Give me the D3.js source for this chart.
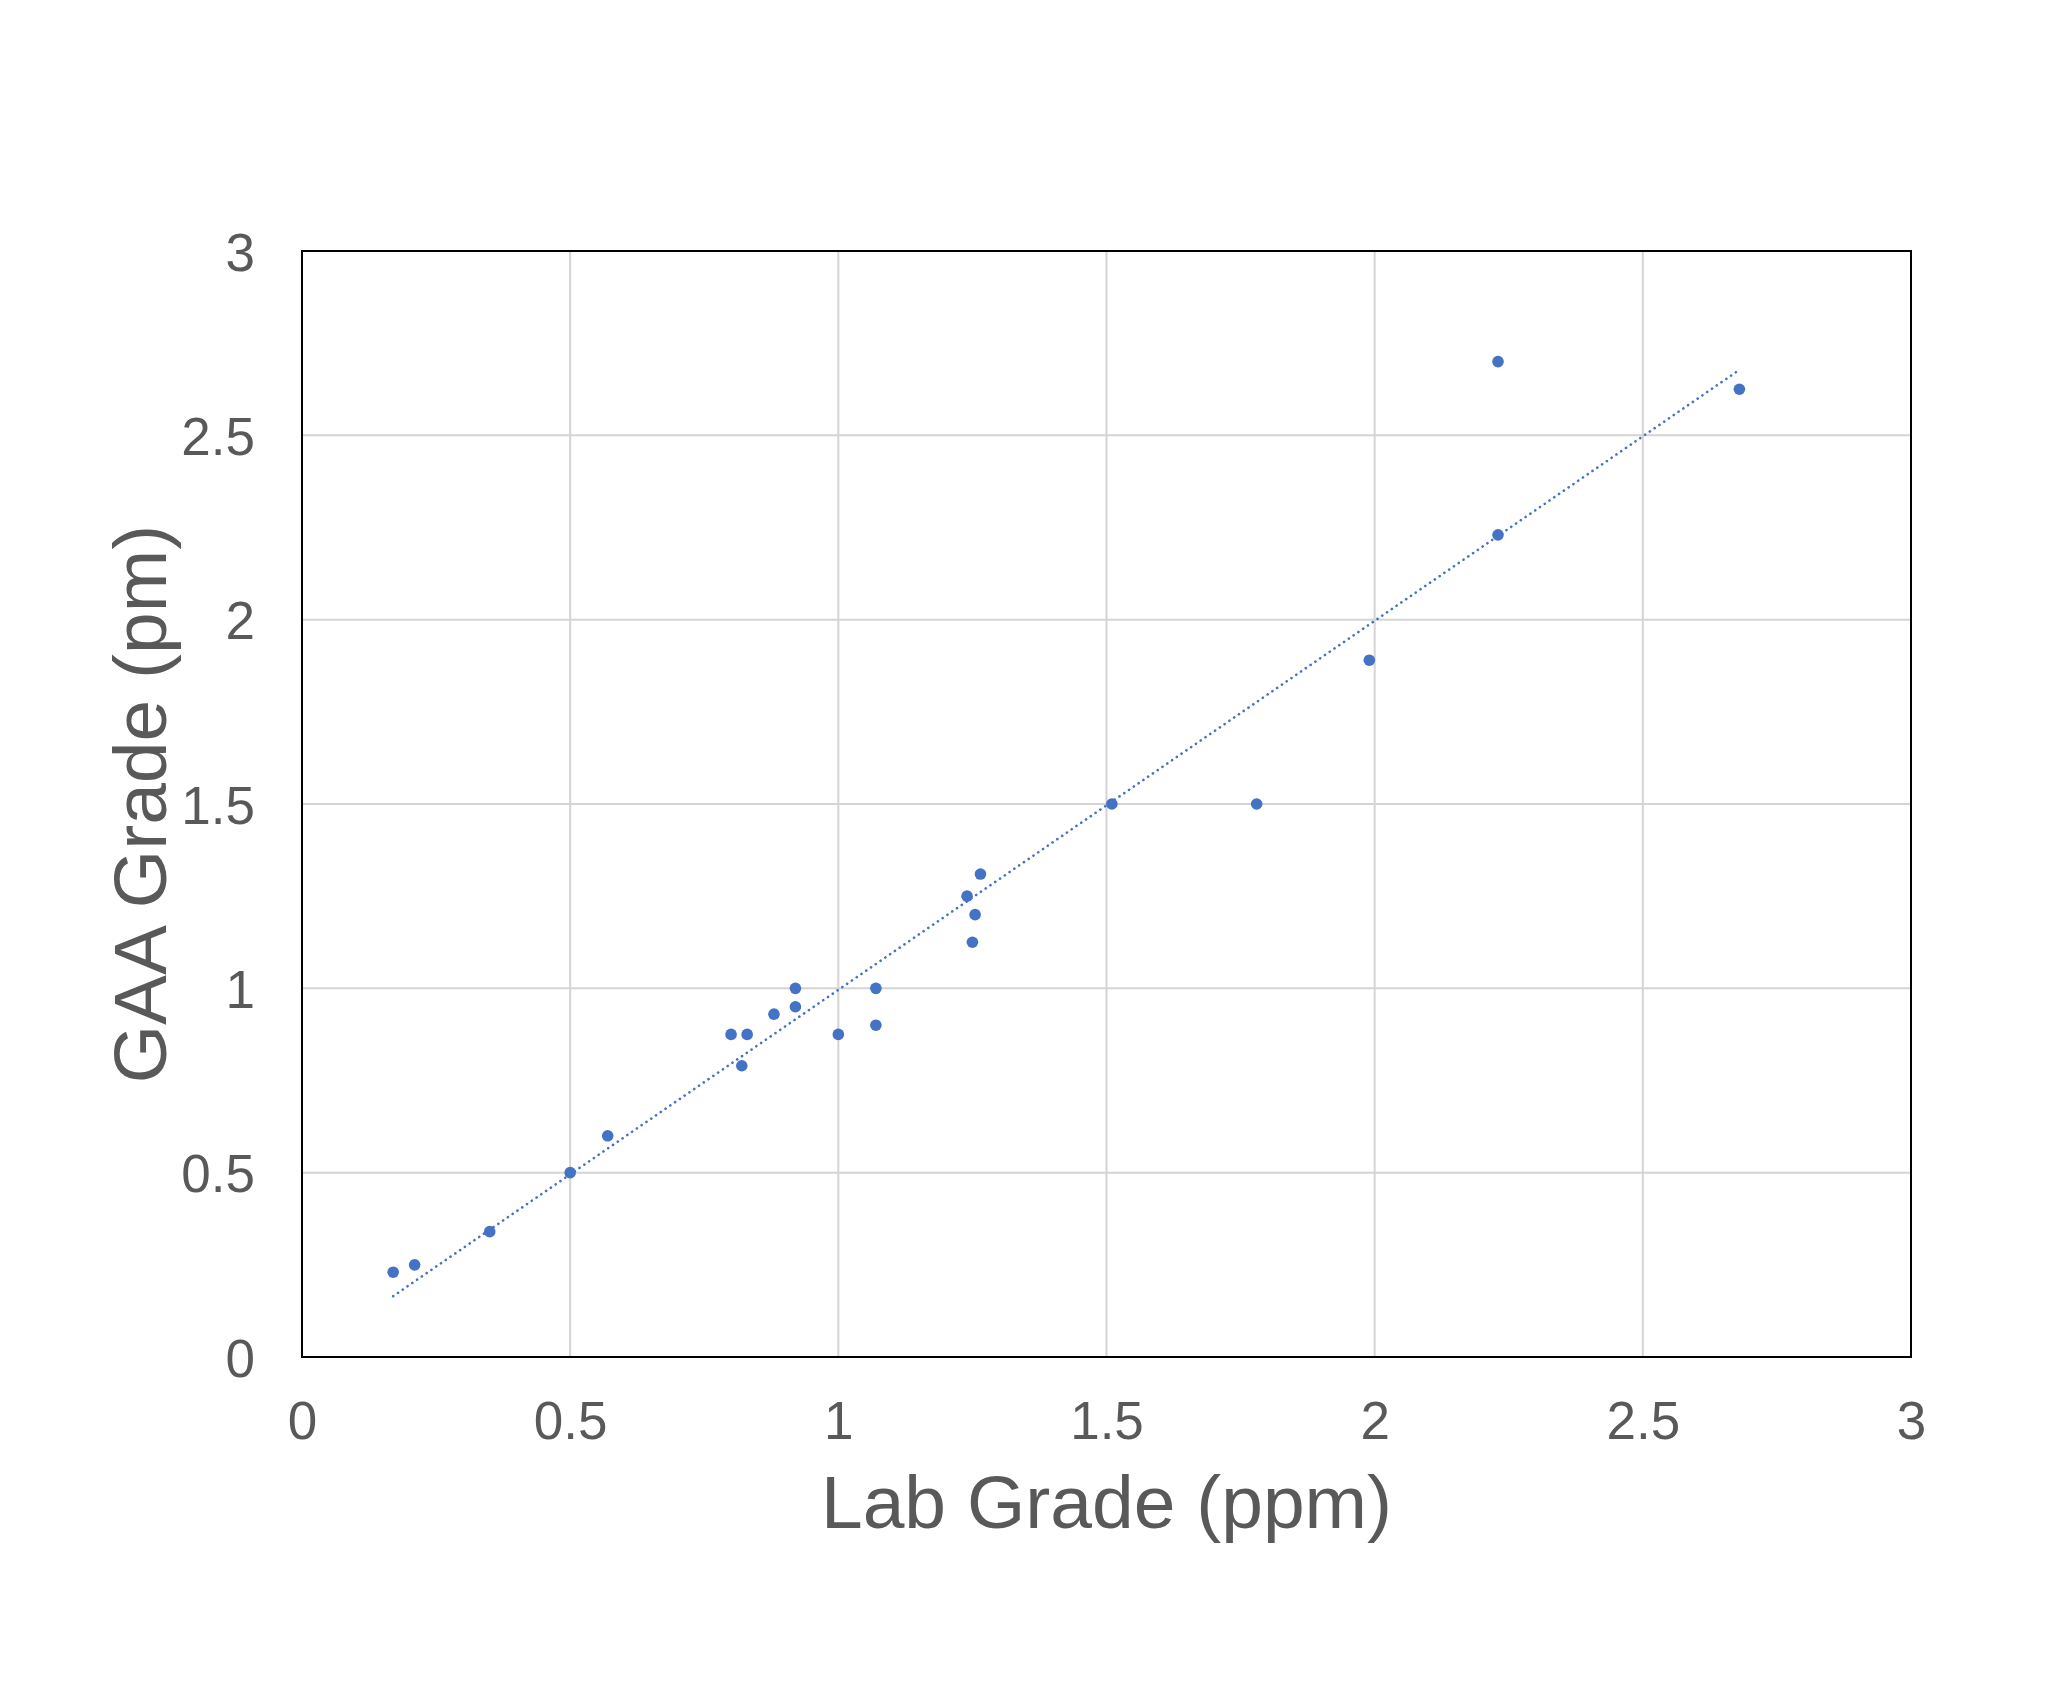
<!DOCTYPE html>
<html>
<head>
<meta charset="utf-8">
<script src="https://d3js.org/d3.v7.min.js"></script>
<style>
  body { margin: 0; background: #fff; }
  svg { display: block; }
</style>
</head>
<body>
<div id="chart"></div>
<script>
// lab grade vs GAA grade samples
var labGrade = [0.17, 0.21, 0.35, 0.50, 0.57, 0.80, 0.82, 0.83, 0.88, 0.92, 0.92, 1.00,
                1.07, 1.07, 1.24, 1.25, 1.255, 1.265, 1.51, 1.78, 1.99, 2.23, 2.23, 2.68];
var gaaGrade = [0.23, 0.25, 0.34, 0.50, 0.60, 0.875, 0.79, 0.875, 0.93, 0.95, 1.00, 0.875,
                0.90, 1.00, 1.25, 1.125, 1.20, 1.31, 1.50, 1.50, 1.89, 2.23, 2.70, 2.625];
var xTicks = [0, 0.5, 1, 1.5, 2, 2.5, 3];
var yTicks = [0, 0.5, 1, 1.5, 2, 2.5, 3];
var tickLabels = ["0", "0.5", "1", "1.5", "2", "2.5", "3"];

var W = 2048, H = 1695;
var margin = {top: 251, right: 137, bottom: 338, left: 302}
  , width = W - margin.left - margin.right
  , height = H - margin.top - margin.bottom;

var data = labGrade.map(function(d, i) { return {x: d, y: gaaGrade[i]}; });

var x = d3.scaleLinear().domain([0, 3]).range([0, width]);
var y = d3.scaleLinear().domain([0, 3]).range([height, 0]);

var svg = d3.select('#chart').append('svg')
  .attr('width', W)
  .attr('height', H);

var main = svg.append('g')
  .attr('transform', 'translate(' + margin.left + ',' + margin.top + ')');

// grid lines
main.append('g').selectAll('line.vg')
  .data(xTicks.slice(1, -1))
  .enter().append('line')
    .attr('x1', function(d) { return x(d); })
    .attr('x2', function(d) { return x(d); })
    .attr('y1', 0).attr('y2', height)
    .attr('stroke', '#d4d4d4').attr('stroke-width', 2);

main.append('g').selectAll('line.hg')
  .data(yTicks.slice(1, -1))
  .enter().append('line')
    .attr('y1', function(d) { return y(d); })
    .attr('y2', function(d) { return y(d); })
    .attr('x1', 0).attr('x2', width)
    .attr('stroke', '#d4d4d4').attr('stroke-width', 2);

// plot border
main.append('rect')
  .attr('width', width).attr('height', height)
  .attr('fill', 'none').attr('stroke', '#000').attr('stroke-width', 2);

// axes (labels only)
var xAxis = main.append('g')
  .attr('transform', 'translate(0,' + height + ')')
  .call(d3.axisBottom(x).tickValues(xTicks).tickSize(0).tickPadding(44)
        .tickFormat(function(d, i) { return tickLabels[i]; }));
var yAxis = main.append('g')
  .call(d3.axisLeft(y).tickValues(yTicks).tickSize(0).tickPadding(47)
        .tickFormat(function(d, i) { return tickLabels[i]; }));

[xAxis, yAxis].forEach(function(a) {
  a.select('.domain').remove();
  a.selectAll('text')
    .attr('fill', '#595959')
    .style('font-family', '"Liberation Sans", Arial, sans-serif')
    .style('font-size', '53px');
});
yAxis.selectAll('text').attr('dy', '0.36em');
xAxis.selectAll('text').attr('dy', '0.71em');

// linear trendline (least squares)
var mx = d3.mean(labGrade), my = d3.mean(gaaGrade);
var sxy = d3.sum(data, function(d) { return (d.x - mx) * (d.y - my); });
var sxx = d3.sum(data, function(d) { return (d.x - mx) * (d.x - mx); });
var slope = sxy / sxx, intercept = my - slope * mx;
var ext = d3.extent(labGrade);

main.append('line')
  .attr('x1', x(ext[0])).attr('y1', y(slope * ext[0] + intercept))
  .attr('x2', x(ext[1])).attr('y2', y(slope * ext[1] + intercept))
  .attr('stroke', '#4472c4')
  .attr('stroke-width', 2.6)
  .attr('stroke-linecap', 'round')
  .attr('stroke-dasharray', '0.1,5.7');

// points
main.append('g').selectAll('circle')
  .data(data)
  .enter().append('circle')
    .attr('cx', function(d) { return x(d.x); })
    .attr('cy', function(d) { return y(d.y); })
    .attr('r', 5.8)
    .attr('fill', '#4472c4');

// axis titles
svg.append('text')
  .attr('x', margin.left + width / 2)
  .attr('y', 1528)
  .attr('text-anchor', 'middle')
  .attr('fill', '#595959')
  .style('font-family', '"Liberation Sans", Arial, sans-serif')
  .style('font-size', '75px')
  .text('Lab Grade (ppm)');

svg.append('text')
  .attr('transform', 'translate(166,' + (margin.top + height / 2) + ') rotate(-90)')
  .attr('text-anchor', 'middle')
  .attr('fill', '#595959')
  .style('font-family', '"Liberation Sans", Arial, sans-serif')
  .style('font-size', '75px')
  .text('GAA Grade (pm)');
</script>
</body>
</html>
